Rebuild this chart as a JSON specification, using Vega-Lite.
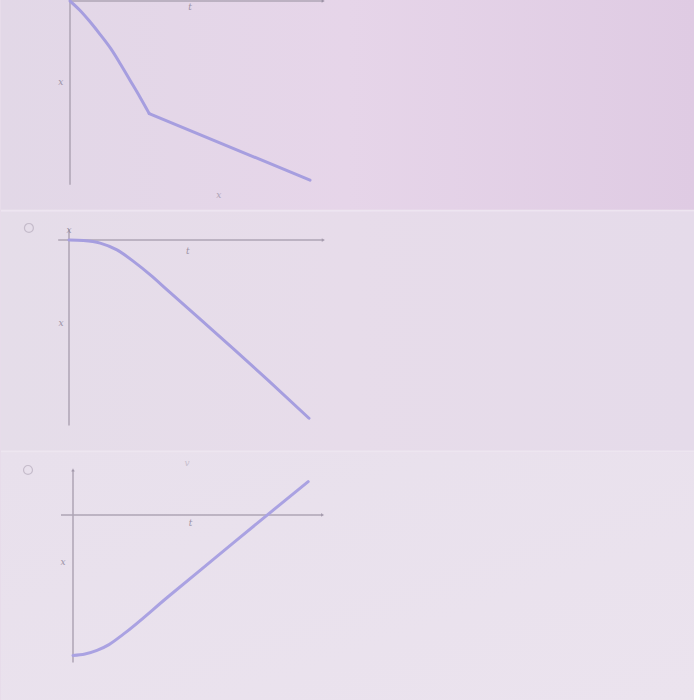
{
  "$schema": "https://vega.github.io/schema/vega-lite/v6.json",
  "padding": {"top": -5, "left": 0, "right": 0, "bottom": 0},
  "spacing": 0,
  "background": "#e7dcea",
  "config": {"view": {"stroke": null}, "concat": {"spacing": 0}, "mark": {"clip": true}},
  "datasets": {
    "curves": [
      {"panel": 1, "seg": "a", "t": 0, "x": 0}, {"panel": 1, "seg": "a", "t": 0.4, "x": -0.5}, {"panel": 1, "seg": "a", "t": 0.8, "x": -1.1},
      {"panel": 1, "seg": "a", "t": 1.25, "x": -1.85}, {"panel": 1, "seg": "a", "t": 1.7, "x": -2.65}, {"panel": 1, "seg": "a", "t": 2.1, "x": -3.5},
      {"panel": 1, "seg": "a", "t": 2.5, "x": -4.4}, {"panel": 1, "seg": "a", "t": 2.9, "x": -5.3}, {"panel": 1, "seg": "a", "t": 3.3, "x": -6.25},
      {"panel": 1, "seg": "b", "t": 3.3, "x": -6.25}, {"panel": 1, "seg": "b", "t": 10, "x": -9.95},
      {"panel": 2, "seg": "a", "t": 0, "x": 0}, {"panel": 2, "seg": "a", "t": 0.6, "x": -0.03}, {"panel": 2, "seg": "a", "t": 1.3, "x": -0.17},
      {"panel": 2, "seg": "a", "t": 2.0, "x": -0.55}, {"panel": 2, "seg": "a", "t": 2.7, "x": -1.2}, {"panel": 2, "seg": "a", "t": 3.4, "x": -1.95},
      {"panel": 2, "seg": "a", "t": 4.1, "x": -2.78}, {"panel": 2, "seg": "a", "t": 5.5, "x": -4.44}, {"panel": 2, "seg": "a", "t": 6.9, "x": -6.1},
      {"panel": 2, "seg": "a", "t": 8.3, "x": -7.8}, {"panel": 2, "seg": "a", "t": 10, "x": -9.9},
      {"panel": 3, "seg": "a", "t": 0, "x": -7.8}, {"panel": 3, "seg": "a", "t": 0.5, "x": -7.72}, {"panel": 3, "seg": "a", "t": 1.0, "x": -7.52},
      {"panel": 3, "seg": "a", "t": 1.5, "x": -7.2}, {"panel": 3, "seg": "a", "t": 2.1, "x": -6.62}, {"panel": 3, "seg": "a", "t": 4, "x": -4.5},
      {"panel": 3, "seg": "a", "t": 6, "x": -2.3}, {"panel": 3, "seg": "a", "t": 8, "x": -0.1}, {"panel": 3, "seg": "a", "t": 9.8, "x": 1.85}
    ],
    "axes": [
      {"panel": 1, "t1": 0, "t2": 0, "x1": 0, "x2": -10.2},
      {"panel": 1, "t1": 0, "t2": 10.55, "x1": 0, "x2": 0},
      {"panel": 2, "t1": 0, "t2": 0, "x1": 0.6, "x2": -10.3},
      {"panel": 2, "t1": -0.45, "t2": 10.6, "x1": 0, "x2": 0},
      {"panel": 3, "t1": 0, "t2": 0, "x1": 2.5, "x2": -8.2},
      {"panel": 3, "t1": -0.5, "t2": 10.4, "x1": 0, "x2": 0}
    ],
    "arrows": [
      {"panel": 1, "t": 10.55, "x": 0, "dir": "triangle-right"},
      {"panel": 2, "t": 10.6, "x": 0, "dir": "triangle-right"},
      {"panel": 3, "t": 10.4, "x": 0, "dir": "triangle-right"},
      {"panel": 3, "t": 0, "x": 2.5, "dir": "triangle-up"}
    ],
    "labels": [
      {"panel": 1, "t": 5.0, "x": -0.35, "text": "t", "op": 0.8},
      {"panel": 1, "t": -0.38, "x": -4.5, "text": "x", "op": 0.8},
      {"panel": 1, "t": 6.2, "x": -10.8, "text": "x", "op": 0.6},
      {"panel": 2, "t": 0, "x": 0.55, "text": "x", "op": 0.8},
      {"panel": 2, "t": 4.95, "x": -0.6, "text": "t", "op": 0.8},
      {"panel": 2, "t": -0.33, "x": -4.6, "text": "x", "op": 0.8},
      {"panel": 3, "t": 4.9, "x": -0.45, "text": "t", "op": 0.8},
      {"panel": 3, "t": -0.42, "x": -2.6, "text": "x", "op": 0.8},
      {"panel": 3, "t": 4.75, "x": 2.9, "text": "v", "op": 0.35}
    ],
    "radios": [
      {"panel": 2, "t": -1.67, "x": 0.67},
      {"panel": 3, "t": -1.875, "x": 2.5}
    ],
    "separators": [
      {"panel": 1, "x": -11.65},
      {"panel": 2, "x": -11.75}
    ]
  },
  "vconcat": [
    {
      "width": 694, "height": 212,
      "view": {"stroke": null, "fill": {"gradient": "linear", "x1": 0, "y1": 0, "x2": 1, "y2": 0, "stops": [{"offset": 0, "color": "#e2d8e7"}, {"offset": 0.5, "color": "#e6d5e9"}, {"offset": 1, "color": "#dfcbe3"}]}},
      "layer": [
        {"data": {"name": "separators"}, "transform": [{"filter": "datum.panel == 1"}], "mark": {"type": "rule", "color": "#ede5f0", "strokeWidth": 2},
         "encoding": {"y": {"field": "x", "type": "quantitative", "scale": {"domain": [-11.72, 0.0556], "nice": false, "zero": false}, "axis": null}}},
        {"data": {"name": "axes"}, "transform": [{"filter": "datum.panel == 1"}], "mark": {"type": "rule", "color": "#aea4b4", "strokeWidth": 1.5},
         "encoding": {
           "x": {"field": "t1", "type": "quantitative", "scale": {"domain": [-2.875, 26.04], "nice": false, "zero": false}, "axis": null},
           "x2": {"field": "t2"},
           "y": {"field": "x1", "type": "quantitative", "scale": {"domain": [-11.72, 0.0556], "nice": false, "zero": false}, "axis": null},
           "y2": {"field": "x2"}}},
        {"data": {"name": "arrows"}, "transform": [{"filter": "datum.panel == 1"}], "mark": {"type": "point", "filled": true, "color": "#8f8598", "size": 14},
         "encoding": {
           "x": {"field": "t", "type": "quantitative", "scale": {"domain": [-2.875, 26.04], "nice": false, "zero": false}, "axis": null},
           "y": {"field": "x", "type": "quantitative", "scale": {"domain": [-11.72, 0.0556], "nice": false, "zero": false}, "axis": null},
           "shape": {"field": "dir", "type": "nominal", "scale": null, "legend": null}}},
        {"data": {"name": "curves"}, "transform": [{"filter": "datum.panel == 1"}], "mark": {"type": "line", "color": "#a69edf", "strokeWidth": 3, "interpolate": "monotone", "strokeCap": "round"},
         "encoding": {
           "x": {"field": "t", "type": "quantitative", "scale": {"domain": [-2.875, 26.04], "nice": false, "zero": false}, "axis": null},
           "y": {"field": "x", "type": "quantitative", "scale": {"domain": [-11.72, 0.0556], "nice": false, "zero": false}, "axis": null},
           "detail": {"field": "seg", "type": "nominal"},
           "order": {"field": "t", "type": "quantitative"}}},
        {"data": {"name": "labels"}, "transform": [{"filter": "datum.panel == 1"}], "mark": {"type": "text", "font": "DejaVu Serif", "fontStyle": "italic", "fontSize": 9, "color": "#8a8094", "align": "center", "baseline": "middle"},
         "encoding": {
           "x": {"field": "t", "type": "quantitative", "scale": {"domain": [-2.875, 26.04], "nice": false, "zero": false}, "axis": null},
           "y": {"field": "x", "type": "quantitative", "scale": {"domain": [-11.72, 0.0556], "nice": false, "zero": false}, "axis": null},
           "text": {"field": "text"},
           "opacity": {"field": "op", "type": "quantitative", "scale": null, "legend": null}}}
      ]
    },
    {
      "width": 694, "height": 241,
      "view": {"stroke": null, "fill": {"gradient": "linear", "x1": 0, "y1": 0, "x2": 1, "y2": 0, "stops": [{"offset": 0, "color": "#e5dde9"}, {"offset": 0.5, "color": "#e7dcea"}, {"offset": 1, "color": "#e5dbea"}]}},
      "layer": [
        {"data": {"name": "separators"}, "transform": [{"filter": "datum.panel == 2"}], "mark": {"type": "rule", "color": "#ede6f0", "strokeWidth": 2},
         "encoding": {"y": {"field": "x", "type": "quantitative", "scale": {"domain": [-11.83, 1.556], "nice": false, "zero": false}, "axis": null}}},
        {"data": {"name": "radios"}, "transform": [{"filter": "datum.panel == 2"}], "mark": {"type": "point", "filled": false, "color": "#b8aebe", "size": 80, "strokeWidth": 1.2},
         "encoding": {
           "x": {"field": "t", "type": "quantitative", "scale": {"domain": [-2.833, 26.083], "nice": false, "zero": false}, "axis": null},
           "y": {"field": "x", "type": "quantitative", "scale": {"domain": [-11.83, 1.556], "nice": false, "zero": false}, "axis": null}}},
        {"data": {"name": "axes"}, "transform": [{"filter": "datum.panel == 2"}], "mark": {"type": "rule", "color": "#aea4b4", "strokeWidth": 1.5},
         "encoding": {
           "x": {"field": "t1", "type": "quantitative", "scale": {"domain": [-2.833, 26.083], "nice": false, "zero": false}, "axis": null},
           "x2": {"field": "t2"},
           "y": {"field": "x1", "type": "quantitative", "scale": {"domain": [-11.83, 1.556], "nice": false, "zero": false}, "axis": null},
           "y2": {"field": "x2"}}},
        {"data": {"name": "arrows"}, "transform": [{"filter": "datum.panel == 2"}], "mark": {"type": "point", "filled": true, "color": "#9a90a2", "size": 14},
         "encoding": {
           "x": {"field": "t", "type": "quantitative", "scale": {"domain": [-2.833, 26.083], "nice": false, "zero": false}, "axis": null},
           "y": {"field": "x", "type": "quantitative", "scale": {"domain": [-11.83, 1.556], "nice": false, "zero": false}, "axis": null},
           "shape": {"field": "dir", "type": "nominal", "scale": null, "legend": null}}},
        {"data": {"name": "curves"}, "transform": [{"filter": "datum.panel == 2"}], "mark": {"type": "line", "color": "#a69edf", "strokeWidth": 3, "interpolate": "monotone", "strokeCap": "round"},
         "encoding": {
           "x": {"field": "t", "type": "quantitative", "scale": {"domain": [-2.833, 26.083], "nice": false, "zero": false}, "axis": null},
           "y": {"field": "x", "type": "quantitative", "scale": {"domain": [-11.83, 1.556], "nice": false, "zero": false}, "axis": null},
           "order": {"field": "t", "type": "quantitative"}}},
        {"data": {"name": "labels"}, "transform": [{"filter": "datum.panel == 2"}], "mark": {"type": "text", "font": "DejaVu Serif", "fontStyle": "italic", "fontSize": 9, "color": "#8a8094", "align": "center", "baseline": "middle"},
         "encoding": {
           "x": {"field": "t", "type": "quantitative", "scale": {"domain": [-2.833, 26.083], "nice": false, "zero": false}, "axis": null},
           "y": {"field": "x", "type": "quantitative", "scale": {"domain": [-11.83, 1.556], "nice": false, "zero": false}, "axis": null},
           "text": {"field": "text"},
           "opacity": {"field": "op", "type": "quantitative", "scale": null, "legend": null}}}
      ]
    },
    {
      "width": 694, "height": 247,
      "view": {"stroke": null, "fill": {"gradient": "linear", "x1": 0, "y1": 0, "x2": 1, "y2": 1, "stops": [{"offset": 0, "color": "#e8e0ec"}, {"offset": 1, "color": "#ebe3ee"}]}},
      "layer": [
        {"data": {"name": "radios"}, "transform": [{"filter": "datum.panel == 3"}], "mark": {"type": "point", "filled": false, "color": "#b8aebe", "size": 80, "strokeWidth": 1.2},
         "encoding": {
           "x": {"field": "t", "type": "quantitative", "scale": {"domain": [-3, 25.917], "nice": false, "zero": false}, "axis": null},
           "y": {"field": "x", "type": "quantitative", "scale": {"domain": [-10.278, 3.444], "nice": false, "zero": false}, "axis": null}}},
        {"data": {"name": "axes"}, "transform": [{"filter": "datum.panel == 3"}], "mark": {"type": "rule", "color": "#aea4b4", "strokeWidth": 1.5},
         "encoding": {
           "x": {"field": "t1", "type": "quantitative", "scale": {"domain": [-3, 25.917], "nice": false, "zero": false}, "axis": null},
           "x2": {"field": "t2"},
           "y": {"field": "x1", "type": "quantitative", "scale": {"domain": [-10.278, 3.444], "nice": false, "zero": false}, "axis": null},
           "y2": {"field": "x2"}}},
        {"data": {"name": "arrows"}, "transform": [{"filter": "datum.panel == 3"}], "mark": {"type": "point", "filled": true, "color": "#9a90a2", "size": 14},
         "encoding": {
           "x": {"field": "t", "type": "quantitative", "scale": {"domain": [-3, 25.917], "nice": false, "zero": false}, "axis": null},
           "y": {"field": "x", "type": "quantitative", "scale": {"domain": [-10.278, 3.444], "nice": false, "zero": false}, "axis": null},
           "shape": {"field": "dir", "type": "nominal", "scale": null, "legend": null}}},
        {"data": {"name": "curves"}, "transform": [{"filter": "datum.panel == 3"}], "mark": {"type": "line", "color": "#aaa2e2", "strokeWidth": 3, "interpolate": "monotone", "strokeCap": "round"},
         "encoding": {
           "x": {"field": "t", "type": "quantitative", "scale": {"domain": [-3, 25.917], "nice": false, "zero": false}, "axis": null},
           "y": {"field": "x", "type": "quantitative", "scale": {"domain": [-10.278, 3.444], "nice": false, "zero": false}, "axis": null},
           "order": {"field": "t", "type": "quantitative"}}},
        {"data": {"name": "labels"}, "transform": [{"filter": "datum.panel == 3"}], "mark": {"type": "text", "font": "DejaVu Serif", "fontStyle": "italic", "fontSize": 9, "color": "#8a8094", "align": "center", "baseline": "middle"},
         "encoding": {
           "x": {"field": "t", "type": "quantitative", "scale": {"domain": [-3, 25.917], "nice": false, "zero": false}, "axis": null},
           "y": {"field": "x", "type": "quantitative", "scale": {"domain": [-10.278, 3.444], "nice": false, "zero": false}, "axis": null},
           "text": {"field": "text"},
           "opacity": {"field": "op", "type": "quantitative", "scale": null, "legend": null}}}
      ]
    }
  ]
}
